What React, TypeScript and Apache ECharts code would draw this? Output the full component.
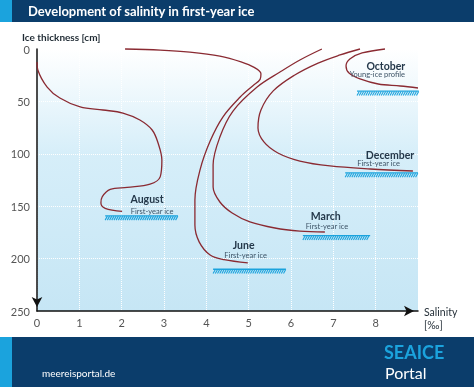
import React, { useEffect, useRef } from 'react';
import * as echarts from 'echarts';

// ---- data (salinity ‰, ice thickness cm) ----
const xTicks = [0, 1, 2, 3, 4, 5, 6, 7, 8];
const yTicks = [0, 50, 100, 150, 200, 250];

const august: number[][] = [
  [0, 12.4], [0.02, 20], [0.24, 36.3], [0.54, 46.8], [1.02, 55.3], [1.56, 58.2], [2.03, 61.1],
  [2.43, 67.8], [2.72, 77.3], [2.86, 89.7], [2.95, 106], [2.91, 122], [2.67, 129], [2.13, 132],
  [1.73, 134], [1.54, 141], [1.51, 147], [1.61, 152], [2.01, 155],
];
const june: number[][] = [
  [2.08, 0], [2.91, 1], [3.61, 2.9], [4.32, 6.7], [4.82, 12.2], [5.13, 17.5], [5.29, 23.5],
  [5.27, 29], [5.1, 35], [4.8, 45.8], [4.39, 64.9], [4.09, 87.8], [3.85, 115.5], [3.73, 144], [3.73, 168],
  [3.83, 184], [4.09, 196.6], [4.42, 201], [4.98, 204],
];
const march: number[][] = [
  [6.73, 0], [6.21, 10.5], [5.74, 22], [5.2, 36.3], [4.63, 59.2], [4.32, 84], [4.16, 110.7],
  [4.16, 131.7], [4.32, 146], [4.61, 156.5], [5.03, 165], [5.62, 170.8], [6.21, 173.7], [6.8, 174.6],
];
const december: number[][] = [
  [7.63, 0], [7.16, 5.7], [6.64, 13.4], [6.09, 24.8], [5.58, 40], [5.29, 58.2], [5.22, 75.4],
  [5.36, 88.7], [5.69, 99.2], [6.21, 106.9], [6.92, 111.6], [7.87, 114.5], [8.88, 116.4],
];
const october: number[][] = [
  [8.22, 0], [7.68, 3.8], [7.39, 9.5], [7.3, 16.2], [7.37, 22.9], [7.63, 28.6], [8.06, 33.4],
  [8.58, 35.3], [9.0, 37.2],
];
const profiles = [august, june, march, december, october];

const profileNames = ['August', 'June', 'March', 'December', 'October'];
const profileTypes = ['First-year ice', 'First-year ice', 'First-year ice', 'First-year ice', 'Young-ice profile'];
// label anchors: [salinity, thickness]
const nameAnchors: number[][] = [[2.6, 143], [4.88, 187], [6.82, 159.4], [8.34, 101], [8.24, 16.2]];
const typeAnchors: number[][] = [[2.72, 154.6], [4.93, 197.5], [6.85, 169], [8.07, 109.7], [8.04, 24.8]];
// ice symbols: [salinity from, salinity to, thickness]
const iceBars: number[][] = [[1.61, 3.33, 159], [4.16, 5.88, 210], [6.28, 7.87, 178], [7.28, 9.0, 118], [7.56, 9.02, 40]];

const NAVY = '#0b3d6b';
const CYAN = '#1ba3dd';
const CURVE = '#8a2a32';
const FONT = 'Lato, "Noto Sans", sans-serif';

export default function App() {
  const ref = useRef<HTMLDivElement>(null);
  useEffect(() => {
    document.body.style.margin = '0';
    const chart = echarts.init(ref.current!, null, { renderer: 'svg' });

    const curveSeries = profiles.map((p, i) => ({
      type: 'line',
      name: profileNames[i],
      data: p,
      smooth: 0.35,
      symbol: 'none',
      showSymbol: false,
      silent: true,
      clip: false,
      lineStyle: { color: CURVE, width: 1.3 },
      z: 3,
    }));

    const iceSeries = {
      type: 'custom',
      silent: true,
      clip: false,
      data: iceBars,
      encode: { x: [0, 1], y: 2 },
      z: 4,
      renderItem: (params: any, api: any) => {
        const p1 = api.coord([api.value(0), api.value(2)]);
        const p2 = api.coord([api.value(1), api.value(2)]);
        const children: any[] = [
          { type: 'rect', shape: { x: p1[0], y: p1[1] - 0.5, width: p2[0] - p1[0], height: 1.3 }, style: { fill: CYAN } },
        ];
        for (let x = p1[0]; x < p2[0] - 2; x += 2.2) {
          children.push({
            type: 'line',
            shape: { x1: x, y1: p1[1] + 4.5, x2: x + 2.2, y2: p1[1] + 0.5 },
            style: { stroke: CYAN, lineWidth: 1.1 },
          });
        }
        return { type: 'group', children };
      },
    };

    const labelSeries = {
      type: 'custom',
      silent: true,
      clip: false,
      data: profileNames.map((_, i) => [nameAnchors[i][0], nameAnchors[i][1], typeAnchors[i][0], typeAnchors[i][1], i]),
      encode: { x: [0, 2], y: [1, 3] },
      z: 5,
      renderItem: (params: any, api: any) => {
        const i = api.value(4);
        const a = api.coord([api.value(0), api.value(1)]);
        const b = api.coord([api.value(2), api.value(3)]);
        return {
          type: 'group',
          children: [
            {
              type: 'text', x: a[0], y: a[1],
              style: { text: profileNames[i], fill: '#24384a', fontSize: 10.5, fontWeight: 'bold', fontFamily: FONT, align: 'center', verticalAlign: 'middle' },
            },
            {
              type: 'text', x: b[0], y: b[1],
              style: { text: profileTypes[i], fill: '#3d5366', fontSize: 7.5, fontFamily: FONT, align: 'center', verticalAlign: 'middle' },
            },
          ],
        };
      },
    };

    chart.setOption({
      animation: false,
      textStyle: { fontFamily: FONT },
      grid: {
        left: 37, right: 56, top: 49, bottom: 76, show: true, borderWidth: 0,
        backgroundColor: new echarts.graphic.LinearGradient(0, 0, 0, 1, [
          { offset: 0, color: '#ffffff' },
          { offset: 0.4, color: '#d6eef9' },
          { offset: 1, color: '#c6e6f5' },
        ]),
      },
      xAxis: {
        type: 'value', min: 0, max: 9, interval: 1,
        axisLine: { onZero: false, lineStyle: { color: '#111', width: 1.5 }, symbol: ['none', 'arrow'], symbolSize: [8, 10], symbolOffset: [0, -4] },
        axisTick: { show: false },
        axisLabel: { color: '#555', fontSize: 11, margin: 6, fontFamily: FONT, formatter: (v: number) => (xTicks.includes(v) ? String(v) : '') },
        splitLine: { show: true, lineStyle: { color: '#ffffff', type: 'dotted', width: 1 } },
      },
      yAxis: {
        type: 'value', min: 0, max: 250, interval: 50, inverse: true,
        axisLine: { onZero: false, lineStyle: { color: '#111', width: 1.5 }, symbol: ['arrow', 'none'], symbolSize: [8, 10], symbolOffset: [4, 0] },
        axisTick: { show: false },
        axisLabel: { color: '#555', fontSize: 11, margin: 7, fontFamily: FONT, formatter: (v: number) => (yTicks.includes(v) ? String(v) : '') },
        splitLine: { show: true, lineStyle: { color: '#ffffff', type: 'dotted', width: 1 } },
      },
      graphic: [
        { type: 'rect', shape: { x: 0, y: 0, width: 474, height: 22 }, style: { fill: NAVY } },
        { type: 'rect', shape: { x: 0, y: 0, width: 12, height: 22 }, style: { fill: CYAN } },
        { type: 'text', x: 28, y: 11, style: { text: 'Development of salinity in first-year ice', fill: '#ffffff', fontSize: 13, fontWeight: 'bold', fontFamily: FONT, verticalAlign: 'middle' } },
        { type: 'text', x: 22, y: 37, style: { text: 'Ice thickness [cm]', fill: '#1f2a33', fontSize: 10, fontWeight: 'bold', fontFamily: FONT, verticalAlign: 'middle' } },
        { type: 'text', x: 424, y: 312, style: { text: 'Salinity', fill: '#1f2a33', fontSize: 10.5, fontFamily: FONT, verticalAlign: 'middle' } },
        { type: 'text', x: 424, y: 325, style: { text: '[‰]', fill: '#1f2a33', fontSize: 10.5, fontFamily: FONT, verticalAlign: 'middle' } },
        { type: 'rect', shape: { x: 0, y: 337, width: 474, height: 50 }, style: { fill: NAVY } },
        { type: 'rect', shape: { x: 0, y: 337, width: 12, height: 50 }, style: { fill: CYAN } },
        { type: 'text', x: 42, y: 373, style: { text: 'meereisportal.de', fill: '#ffffff', fontSize: 10, fontFamily: FONT, verticalAlign: 'middle' } },
        { type: 'text', x: 384, y: 352, style: { text: 'SEAICE', fill: '#1ba3dd', fontSize: 18, fontWeight: 'bold', fontFamily: FONT, verticalAlign: 'middle' } },
        { type: 'text', x: 385, y: 372, style: { text: 'Portal', fill: '#ffffff', fontSize: 16, fontFamily: FONT, verticalAlign: 'middle' } },
      ],
      series: [...curveSeries, iceSeries, labelSeries],
    });
    return () => chart.dispose();
  }, []);
  return <div ref={ref} style={{ position: 'fixed', left: 0, top: 0, width: 474, height: 387 }} />;
}
